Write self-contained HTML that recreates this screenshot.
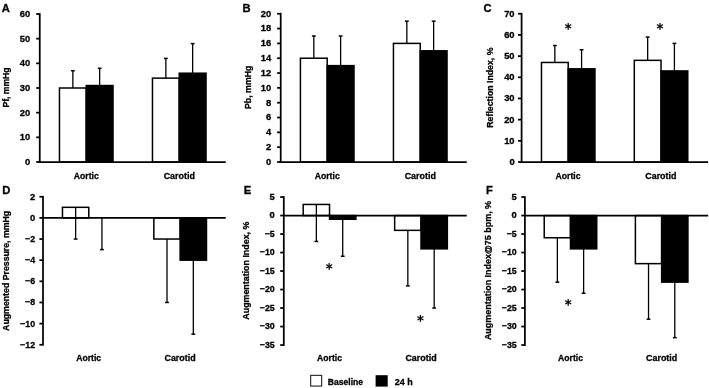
<!DOCTYPE html>
<html><head><meta charset="utf-8"><title>Figure</title>
<style>
html,body{margin:0;padding:0;background:#fff;}
body{width:709px;height:388px;overflow:hidden;}
svg{display:block;}
svg text{font-family:"Liberation Sans",sans-serif;font-weight:bold;fill:#000;stroke:#000;stroke-width:0.3px;}
</style></head><body>
<svg width="709" height="388" viewBox="0 0 709 388">
<rect width="709" height="388" fill="#fff"/>
<rect x="59.47" y="88.00" width="26.78" height="74.00" fill="#fff" stroke="#000" stroke-width="1.5"/>
<line x1="72.86" y1="88.00" x2="72.86" y2="70.73" stroke="#000" stroke-width="1.3" stroke-linecap="butt"/>
<line x1="70.96" y1="70.73" x2="74.76" y2="70.73" stroke="#000" stroke-width="1.5" stroke-linecap="butt"/>
<rect x="86.25" y="85.53" width="26.78" height="76.47" fill="#000" stroke="#000" stroke-width="1.5"/>
<line x1="99.64" y1="85.53" x2="99.64" y2="68.27" stroke="#000" stroke-width="1.3" stroke-linecap="butt"/>
<line x1="97.74" y1="68.27" x2="101.54" y2="68.27" stroke="#000" stroke-width="1.5" stroke-linecap="butt"/>
<text x="86.25" y="178.60" text-anchor="middle" font-size="9.4" textLength="25.0" lengthAdjust="spacingAndGlyphs">Aortic</text>
<rect x="152.47" y="78.13" width="26.78" height="83.87" fill="#fff" stroke="#000" stroke-width="1.5"/>
<line x1="165.86" y1="78.13" x2="165.86" y2="58.40" stroke="#000" stroke-width="1.3" stroke-linecap="butt"/>
<line x1="163.96" y1="58.40" x2="167.76" y2="58.40" stroke="#000" stroke-width="1.5" stroke-linecap="butt"/>
<rect x="179.25" y="73.20" width="26.78" height="88.80" fill="#000" stroke="#000" stroke-width="1.5"/>
<line x1="192.64" y1="73.20" x2="192.64" y2="43.60" stroke="#000" stroke-width="1.3" stroke-linecap="butt"/>
<line x1="190.74" y1="43.60" x2="194.54" y2="43.60" stroke="#000" stroke-width="1.5" stroke-linecap="butt"/>
<text x="179.25" y="178.60" text-anchor="middle" font-size="9.4" textLength="31.2" lengthAdjust="spacingAndGlyphs">Carotid</text>
<line x1="39.75" y1="13.12" x2="39.75" y2="162.88" stroke="#000" stroke-width="1.75" stroke-linecap="butt"/>
<line x1="38.88" y1="162.00" x2="225.75" y2="162.00" stroke="#000" stroke-width="1.75" stroke-linecap="butt"/>
<line x1="36.15" y1="162.00" x2="39.75" y2="162.00" stroke="#000" stroke-width="1.75" stroke-linecap="butt"/>
<text x="30.20" y="164.90" text-anchor="end" font-size="9.4">0</text>
<line x1="36.15" y1="137.33" x2="39.75" y2="137.33" stroke="#000" stroke-width="1.75" stroke-linecap="butt"/>
<text x="30.20" y="140.23" text-anchor="end" font-size="9.4">10</text>
<line x1="36.15" y1="112.67" x2="39.75" y2="112.67" stroke="#000" stroke-width="1.75" stroke-linecap="butt"/>
<text x="30.20" y="115.57" text-anchor="end" font-size="9.4">20</text>
<line x1="36.15" y1="88.00" x2="39.75" y2="88.00" stroke="#000" stroke-width="1.75" stroke-linecap="butt"/>
<text x="30.20" y="90.90" text-anchor="end" font-size="9.4">30</text>
<line x1="36.15" y1="63.33" x2="39.75" y2="63.33" stroke="#000" stroke-width="1.75" stroke-linecap="butt"/>
<text x="30.20" y="66.23" text-anchor="end" font-size="9.4">40</text>
<line x1="36.15" y1="38.67" x2="39.75" y2="38.67" stroke="#000" stroke-width="1.75" stroke-linecap="butt"/>
<text x="30.20" y="41.57" text-anchor="end" font-size="9.4">50</text>
<line x1="36.15" y1="14.00" x2="39.75" y2="14.00" stroke="#000" stroke-width="1.75" stroke-linecap="butt"/>
<text x="30.20" y="16.90" text-anchor="end" font-size="9.4">60</text>
<text x="9.00" y="87.50" text-anchor="middle" font-size="9.4" transform="rotate(-90 9.00 87.50)" textLength="40.2" lengthAdjust="spacingAndGlyphs">Pf, mmHg</text>
<text x="1.70" y="11.55" text-anchor="start" font-size="11.2">A</text>
<rect x="300.42" y="58.22" width="26.79" height="103.78" fill="#fff" stroke="#000" stroke-width="1.5"/>
<line x1="313.82" y1="58.22" x2="313.82" y2="35.99" stroke="#000" stroke-width="1.3" stroke-linecap="butt"/>
<line x1="311.92" y1="35.99" x2="315.72" y2="35.99" stroke="#000" stroke-width="1.5" stroke-linecap="butt"/>
<rect x="327.21" y="65.64" width="26.79" height="96.36" fill="#000" stroke="#000" stroke-width="1.5"/>
<line x1="340.61" y1="65.64" x2="340.61" y2="35.99" stroke="#000" stroke-width="1.3" stroke-linecap="butt"/>
<line x1="338.71" y1="35.99" x2="342.51" y2="35.99" stroke="#000" stroke-width="1.5" stroke-linecap="butt"/>
<text x="327.21" y="178.60" text-anchor="middle" font-size="9.4" textLength="25.0" lengthAdjust="spacingAndGlyphs">Aortic</text>
<rect x="393.45" y="43.40" width="26.79" height="118.60" fill="#fff" stroke="#000" stroke-width="1.5"/>
<line x1="406.84" y1="43.40" x2="406.84" y2="21.16" stroke="#000" stroke-width="1.3" stroke-linecap="butt"/>
<line x1="404.94" y1="21.16" x2="408.74" y2="21.16" stroke="#000" stroke-width="1.5" stroke-linecap="butt"/>
<rect x="420.24" y="50.81" width="26.79" height="111.19" fill="#000" stroke="#000" stroke-width="1.5"/>
<line x1="433.63" y1="50.81" x2="433.63" y2="21.16" stroke="#000" stroke-width="1.3" stroke-linecap="butt"/>
<line x1="431.73" y1="21.16" x2="435.53" y2="21.16" stroke="#000" stroke-width="1.5" stroke-linecap="butt"/>
<text x="420.24" y="178.60" text-anchor="middle" font-size="9.4" textLength="31.2" lengthAdjust="spacingAndGlyphs">Carotid</text>
<line x1="280.70" y1="12.88" x2="280.70" y2="162.88" stroke="#000" stroke-width="1.75" stroke-linecap="butt"/>
<line x1="279.82" y1="162.00" x2="466.75" y2="162.00" stroke="#000" stroke-width="1.75" stroke-linecap="butt"/>
<line x1="277.10" y1="162.00" x2="280.70" y2="162.00" stroke="#000" stroke-width="1.75" stroke-linecap="butt"/>
<text x="271.30" y="164.90" text-anchor="end" font-size="9.4">0</text>
<line x1="277.10" y1="147.17" x2="280.70" y2="147.17" stroke="#000" stroke-width="1.75" stroke-linecap="butt"/>
<text x="271.30" y="150.07" text-anchor="end" font-size="9.4">2</text>
<line x1="277.10" y1="132.35" x2="280.70" y2="132.35" stroke="#000" stroke-width="1.75" stroke-linecap="butt"/>
<text x="271.30" y="135.25" text-anchor="end" font-size="9.4">4</text>
<line x1="277.10" y1="117.52" x2="280.70" y2="117.52" stroke="#000" stroke-width="1.75" stroke-linecap="butt"/>
<text x="271.30" y="120.42" text-anchor="end" font-size="9.4">6</text>
<line x1="277.10" y1="102.70" x2="280.70" y2="102.70" stroke="#000" stroke-width="1.75" stroke-linecap="butt"/>
<text x="271.30" y="105.60" text-anchor="end" font-size="9.4">8</text>
<line x1="277.10" y1="87.88" x2="280.70" y2="87.88" stroke="#000" stroke-width="1.75" stroke-linecap="butt"/>
<text x="271.30" y="90.78" text-anchor="end" font-size="9.4">10</text>
<line x1="277.10" y1="73.05" x2="280.70" y2="73.05" stroke="#000" stroke-width="1.75" stroke-linecap="butt"/>
<text x="271.30" y="75.95" text-anchor="end" font-size="9.4">12</text>
<line x1="277.10" y1="58.22" x2="280.70" y2="58.22" stroke="#000" stroke-width="1.75" stroke-linecap="butt"/>
<text x="271.30" y="61.12" text-anchor="end" font-size="9.4">14</text>
<line x1="277.10" y1="43.40" x2="280.70" y2="43.40" stroke="#000" stroke-width="1.75" stroke-linecap="butt"/>
<text x="271.30" y="46.30" text-anchor="end" font-size="9.4">16</text>
<line x1="277.10" y1="28.57" x2="280.70" y2="28.57" stroke="#000" stroke-width="1.75" stroke-linecap="butt"/>
<text x="271.30" y="31.47" text-anchor="end" font-size="9.4">18</text>
<line x1="277.10" y1="13.75" x2="280.70" y2="13.75" stroke="#000" stroke-width="1.75" stroke-linecap="butt"/>
<text x="271.30" y="16.65" text-anchor="end" font-size="9.4">20</text>
<text x="250.70" y="87.30" text-anchor="middle" font-size="9.4" transform="rotate(-90 250.70 87.30)" textLength="43.6" lengthAdjust="spacingAndGlyphs">Pb, mmHg</text>
<text x="242.60" y="11.55" text-anchor="start" font-size="11.2">B</text>
<rect x="541.48" y="62.46" width="26.73" height="99.54" fill="#fff" stroke="#000" stroke-width="1.5"/>
<line x1="554.85" y1="62.46" x2="554.85" y2="45.52" stroke="#000" stroke-width="1.3" stroke-linecap="butt"/>
<line x1="552.95" y1="45.52" x2="556.75" y2="45.52" stroke="#000" stroke-width="1.5" stroke-linecap="butt"/>
<rect x="568.21" y="68.81" width="26.73" height="93.19" fill="#000" stroke="#000" stroke-width="1.5"/>
<line x1="581.58" y1="68.81" x2="581.58" y2="49.75" stroke="#000" stroke-width="1.3" stroke-linecap="butt"/>
<line x1="579.68" y1="49.75" x2="583.48" y2="49.75" stroke="#000" stroke-width="1.5" stroke-linecap="butt"/>
<text x="568.01" y="178.60" text-anchor="middle" font-size="9.4" textLength="25.0" lengthAdjust="spacingAndGlyphs">Aortic</text>
<rect x="634.30" y="60.34" width="26.73" height="101.66" fill="#fff" stroke="#000" stroke-width="1.5"/>
<line x1="647.67" y1="60.34" x2="647.67" y2="37.05" stroke="#000" stroke-width="1.3" stroke-linecap="butt"/>
<line x1="645.77" y1="37.05" x2="649.57" y2="37.05" stroke="#000" stroke-width="1.5" stroke-linecap="butt"/>
<rect x="661.04" y="70.93" width="26.73" height="91.07" fill="#000" stroke="#000" stroke-width="1.5"/>
<line x1="674.40" y1="70.93" x2="674.40" y2="43.40" stroke="#000" stroke-width="1.3" stroke-linecap="butt"/>
<line x1="672.50" y1="43.40" x2="676.30" y2="43.40" stroke="#000" stroke-width="1.5" stroke-linecap="butt"/>
<text x="660.84" y="178.60" text-anchor="middle" font-size="9.4" textLength="31.2" lengthAdjust="spacingAndGlyphs">Carotid</text>
<line x1="521.60" y1="12.88" x2="521.60" y2="162.88" stroke="#000" stroke-width="1.75" stroke-linecap="butt"/>
<line x1="520.73" y1="162.00" x2="708.15" y2="162.00" stroke="#000" stroke-width="1.75" stroke-linecap="butt"/>
<line x1="518.00" y1="162.00" x2="521.60" y2="162.00" stroke="#000" stroke-width="1.75" stroke-linecap="butt"/>
<text x="514.60" y="164.90" text-anchor="end" font-size="9.4">0</text>
<line x1="518.00" y1="140.82" x2="521.60" y2="140.82" stroke="#000" stroke-width="1.75" stroke-linecap="butt"/>
<text x="514.60" y="143.72" text-anchor="end" font-size="9.4">10</text>
<line x1="518.00" y1="119.64" x2="521.60" y2="119.64" stroke="#000" stroke-width="1.75" stroke-linecap="butt"/>
<text x="514.60" y="122.54" text-anchor="end" font-size="9.4">20</text>
<line x1="518.00" y1="98.46" x2="521.60" y2="98.46" stroke="#000" stroke-width="1.75" stroke-linecap="butt"/>
<text x="514.60" y="101.36" text-anchor="end" font-size="9.4">30</text>
<line x1="518.00" y1="77.29" x2="521.60" y2="77.29" stroke="#000" stroke-width="1.75" stroke-linecap="butt"/>
<text x="514.60" y="80.19" text-anchor="end" font-size="9.4">40</text>
<line x1="518.00" y1="56.11" x2="521.60" y2="56.11" stroke="#000" stroke-width="1.75" stroke-linecap="butt"/>
<text x="514.60" y="59.01" text-anchor="end" font-size="9.4">50</text>
<line x1="518.00" y1="34.93" x2="521.60" y2="34.93" stroke="#000" stroke-width="1.75" stroke-linecap="butt"/>
<text x="514.60" y="37.83" text-anchor="end" font-size="9.4">60</text>
<line x1="518.00" y1="13.75" x2="521.60" y2="13.75" stroke="#000" stroke-width="1.75" stroke-linecap="butt"/>
<text x="514.60" y="16.65" text-anchor="end" font-size="9.4">70</text>
<text x="493.40" y="87.60" text-anchor="middle" font-size="9.4" transform="rotate(-90 493.40 87.60)" textLength="80.2" lengthAdjust="spacingAndGlyphs">Reflection Index, %</text>
<text x="483.50" y="11.55" text-anchor="start" font-size="11.2">C</text>
<text x="568.26" y="33.19" text-anchor="middle" font-size="13.2" style="font-family:'DejaVu Sans',sans-serif;stroke-width:0.15px">*</text>
<text x="659.86" y="33.19" text-anchor="middle" font-size="13.2" style="font-family:'DejaVu Sans',sans-serif;stroke-width:0.15px">*</text>
<rect x="62.47" y="207.32" width="26.32" height="10.57" fill="#fff" stroke="#000" stroke-width="1.5"/>
<line x1="75.63" y1="207.32" x2="75.63" y2="239.04" stroke="#000" stroke-width="1.3" stroke-linecap="butt"/>
<line x1="73.73" y1="239.04" x2="77.53" y2="239.04" stroke="#000" stroke-width="1.5" stroke-linecap="butt"/>
<line x1="101.95" y1="217.89" x2="101.95" y2="249.61" stroke="#000" stroke-width="1.3" stroke-linecap="butt"/>
<line x1="100.05" y1="249.61" x2="103.85" y2="249.61" stroke="#000" stroke-width="1.5" stroke-linecap="butt"/>
<text x="88.69" y="361.40" text-anchor="middle" font-size="9.4" textLength="25.0" lengthAdjust="spacingAndGlyphs">Aortic</text>
<rect x="153.85" y="217.89" width="26.32" height="21.14" fill="#fff" stroke="#000" stroke-width="1.5"/>
<line x1="167.00" y1="239.04" x2="167.00" y2="302.46" stroke="#000" stroke-width="1.3" stroke-linecap="butt"/>
<line x1="165.10" y1="302.46" x2="168.90" y2="302.46" stroke="#000" stroke-width="1.5" stroke-linecap="butt"/>
<rect x="180.16" y="217.89" width="26.32" height="42.29" fill="#000" stroke="#000" stroke-width="1.5"/>
<line x1="193.32" y1="260.18" x2="193.32" y2="334.18" stroke="#000" stroke-width="1.3" stroke-linecap="butt"/>
<line x1="191.42" y1="334.18" x2="195.22" y2="334.18" stroke="#000" stroke-width="1.5" stroke-linecap="butt"/>
<text x="180.06" y="361.40" text-anchor="middle" font-size="9.4" textLength="31.2" lengthAdjust="spacingAndGlyphs">Carotid</text>
<line x1="43.00" y1="195.88" x2="43.00" y2="345.62" stroke="#000" stroke-width="1.75" stroke-linecap="butt"/>
<line x1="42.12" y1="217.89" x2="225.75" y2="217.89" stroke="#000" stroke-width="1.75" stroke-linecap="butt"/>
<line x1="39.40" y1="344.75" x2="43.00" y2="344.75" stroke="#000" stroke-width="1.75" stroke-linecap="butt"/>
<text x="35.10" y="347.65" text-anchor="end" font-size="9.4" textLength="14.99" lengthAdjust="spacingAndGlyphs">−12</text>
<line x1="39.40" y1="323.61" x2="43.00" y2="323.61" stroke="#000" stroke-width="1.75" stroke-linecap="butt"/>
<text x="35.10" y="326.51" text-anchor="end" font-size="9.4" textLength="14.99" lengthAdjust="spacingAndGlyphs">−10</text>
<line x1="39.40" y1="302.46" x2="43.00" y2="302.46" stroke="#000" stroke-width="1.75" stroke-linecap="butt"/>
<text x="35.10" y="305.36" text-anchor="end" font-size="9.4" textLength="10.07" lengthAdjust="spacingAndGlyphs">−8</text>
<line x1="39.40" y1="281.32" x2="43.00" y2="281.32" stroke="#000" stroke-width="1.75" stroke-linecap="butt"/>
<text x="35.10" y="284.22" text-anchor="end" font-size="9.4" textLength="10.07" lengthAdjust="spacingAndGlyphs">−6</text>
<line x1="39.40" y1="260.18" x2="43.00" y2="260.18" stroke="#000" stroke-width="1.75" stroke-linecap="butt"/>
<text x="35.10" y="263.08" text-anchor="end" font-size="9.4" textLength="10.07" lengthAdjust="spacingAndGlyphs">−4</text>
<line x1="39.40" y1="239.04" x2="43.00" y2="239.04" stroke="#000" stroke-width="1.75" stroke-linecap="butt"/>
<text x="35.10" y="241.94" text-anchor="end" font-size="9.4" textLength="10.07" lengthAdjust="spacingAndGlyphs">−2</text>
<line x1="39.40" y1="217.89" x2="43.00" y2="217.89" stroke="#000" stroke-width="1.75" stroke-linecap="butt"/>
<text x="35.10" y="220.79" text-anchor="end" font-size="9.4">0</text>
<line x1="39.40" y1="196.75" x2="43.00" y2="196.75" stroke="#000" stroke-width="1.75" stroke-linecap="butt"/>
<text x="35.10" y="199.65" text-anchor="end" font-size="9.4">2</text>
<text x="9.30" y="270.85" text-anchor="middle" font-size="9.4" transform="rotate(-90 9.30 270.85)" textLength="120.1" lengthAdjust="spacingAndGlyphs">Augmented Pressure, mmHg</text>
<text x="2.30" y="194.15" text-anchor="start" font-size="11.2">D</text>
<rect x="303.19" y="204.45" width="26.34" height="11.10" fill="#fff" stroke="#000" stroke-width="1.5"/>
<line x1="316.37" y1="204.45" x2="316.37" y2="241.45" stroke="#000" stroke-width="1.3" stroke-linecap="butt"/>
<line x1="314.47" y1="241.45" x2="318.27" y2="241.45" stroke="#000" stroke-width="1.5" stroke-linecap="butt"/>
<rect x="329.54" y="215.55" width="26.34" height="3.70" fill="#000" stroke="#000" stroke-width="1.5"/>
<line x1="342.71" y1="219.25" x2="342.71" y2="256.25" stroke="#000" stroke-width="1.3" stroke-linecap="butt"/>
<line x1="340.81" y1="256.25" x2="344.61" y2="256.25" stroke="#000" stroke-width="1.5" stroke-linecap="butt"/>
<text x="329.54" y="361.40" text-anchor="middle" font-size="9.4" textLength="25.0" lengthAdjust="spacingAndGlyphs">Aortic</text>
<rect x="394.67" y="215.55" width="26.34" height="14.80" fill="#fff" stroke="#000" stroke-width="1.5"/>
<line x1="407.84" y1="230.35" x2="407.84" y2="285.85" stroke="#000" stroke-width="1.3" stroke-linecap="butt"/>
<line x1="405.94" y1="285.85" x2="409.74" y2="285.85" stroke="#000" stroke-width="1.5" stroke-linecap="butt"/>
<rect x="421.01" y="215.55" width="26.34" height="33.30" fill="#000" stroke="#000" stroke-width="1.5"/>
<line x1="434.18" y1="248.85" x2="434.18" y2="308.05" stroke="#000" stroke-width="1.3" stroke-linecap="butt"/>
<line x1="432.28" y1="308.05" x2="436.08" y2="308.05" stroke="#000" stroke-width="1.5" stroke-linecap="butt"/>
<text x="421.01" y="361.40" text-anchor="middle" font-size="9.4" textLength="31.2" lengthAdjust="spacingAndGlyphs">Carotid</text>
<line x1="283.80" y1="196.18" x2="283.80" y2="345.93" stroke="#000" stroke-width="1.75" stroke-linecap="butt"/>
<line x1="282.93" y1="215.55" x2="466.75" y2="215.55" stroke="#000" stroke-width="1.75" stroke-linecap="butt"/>
<line x1="280.20" y1="345.05" x2="283.80" y2="345.05" stroke="#000" stroke-width="1.75" stroke-linecap="butt"/>
<text x="274.80" y="347.95" text-anchor="end" font-size="9.4" textLength="14.99" lengthAdjust="spacingAndGlyphs">−35</text>
<line x1="280.20" y1="326.55" x2="283.80" y2="326.55" stroke="#000" stroke-width="1.75" stroke-linecap="butt"/>
<text x="274.80" y="329.45" text-anchor="end" font-size="9.4" textLength="14.99" lengthAdjust="spacingAndGlyphs">−30</text>
<line x1="280.20" y1="308.05" x2="283.80" y2="308.05" stroke="#000" stroke-width="1.75" stroke-linecap="butt"/>
<text x="274.80" y="310.95" text-anchor="end" font-size="9.4" textLength="14.99" lengthAdjust="spacingAndGlyphs">−25</text>
<line x1="280.20" y1="289.55" x2="283.80" y2="289.55" stroke="#000" stroke-width="1.75" stroke-linecap="butt"/>
<text x="274.80" y="292.45" text-anchor="end" font-size="9.4" textLength="14.99" lengthAdjust="spacingAndGlyphs">−20</text>
<line x1="280.20" y1="271.05" x2="283.80" y2="271.05" stroke="#000" stroke-width="1.75" stroke-linecap="butt"/>
<text x="274.80" y="273.95" text-anchor="end" font-size="9.4" textLength="14.99" lengthAdjust="spacingAndGlyphs">−15</text>
<line x1="280.20" y1="252.55" x2="283.80" y2="252.55" stroke="#000" stroke-width="1.75" stroke-linecap="butt"/>
<text x="274.80" y="255.45" text-anchor="end" font-size="9.4" textLength="14.99" lengthAdjust="spacingAndGlyphs">−10</text>
<line x1="280.20" y1="234.05" x2="283.80" y2="234.05" stroke="#000" stroke-width="1.75" stroke-linecap="butt"/>
<text x="274.80" y="236.95" text-anchor="end" font-size="9.4" textLength="10.07" lengthAdjust="spacingAndGlyphs">−5</text>
<line x1="280.20" y1="215.55" x2="283.80" y2="215.55" stroke="#000" stroke-width="1.75" stroke-linecap="butt"/>
<text x="274.80" y="218.45" text-anchor="end" font-size="9.4">0</text>
<line x1="280.20" y1="197.05" x2="283.80" y2="197.05" stroke="#000" stroke-width="1.75" stroke-linecap="butt"/>
<text x="274.80" y="199.95" text-anchor="end" font-size="9.4">5</text>
<text x="248.80" y="270.65" text-anchor="middle" font-size="9.4" transform="rotate(-90 248.80 270.65)" textLength="98.1" lengthAdjust="spacingAndGlyphs">Augmentation Index, %</text>
<text x="243.80" y="194.15" text-anchor="start" font-size="11.2">E</text>
<text x="329.16" y="273.29" text-anchor="middle" font-size="13.2" style="font-family:'DejaVu Sans',sans-serif;stroke-width:0.15px">*</text>
<text x="420.46" y="324.94" text-anchor="middle" font-size="13.2" style="font-family:'DejaVu Sans',sans-serif;stroke-width:0.15px">*</text>
<rect x="544.23" y="215.55" width="26.26" height="22.20" fill="#fff" stroke="#000" stroke-width="1.5"/>
<line x1="557.36" y1="237.75" x2="557.36" y2="282.15" stroke="#000" stroke-width="1.3" stroke-linecap="butt"/>
<line x1="555.46" y1="282.15" x2="559.26" y2="282.15" stroke="#000" stroke-width="1.5" stroke-linecap="butt"/>
<rect x="570.49" y="215.55" width="26.26" height="33.30" fill="#000" stroke="#000" stroke-width="1.5"/>
<line x1="583.62" y1="248.85" x2="583.62" y2="293.25" stroke="#000" stroke-width="1.3" stroke-linecap="butt"/>
<line x1="581.72" y1="293.25" x2="585.52" y2="293.25" stroke="#000" stroke-width="1.5" stroke-linecap="butt"/>
<text x="570.49" y="361.40" text-anchor="middle" font-size="9.4" textLength="25.0" lengthAdjust="spacingAndGlyphs">Aortic</text>
<rect x="635.40" y="215.55" width="26.26" height="48.10" fill="#fff" stroke="#000" stroke-width="1.5"/>
<line x1="648.53" y1="263.65" x2="648.53" y2="319.15" stroke="#000" stroke-width="1.3" stroke-linecap="butt"/>
<line x1="646.63" y1="319.15" x2="650.43" y2="319.15" stroke="#000" stroke-width="1.5" stroke-linecap="butt"/>
<rect x="661.66" y="215.55" width="26.26" height="66.60" fill="#000" stroke="#000" stroke-width="1.5"/>
<line x1="674.79" y1="282.15" x2="674.79" y2="337.65" stroke="#000" stroke-width="1.3" stroke-linecap="butt"/>
<line x1="672.89" y1="337.65" x2="676.69" y2="337.65" stroke="#000" stroke-width="1.5" stroke-linecap="butt"/>
<text x="661.66" y="361.40" text-anchor="middle" font-size="9.4" textLength="31.2" lengthAdjust="spacingAndGlyphs">Carotid</text>
<line x1="524.90" y1="196.18" x2="524.90" y2="345.93" stroke="#000" stroke-width="1.75" stroke-linecap="butt"/>
<line x1="524.02" y1="215.55" x2="708.15" y2="215.55" stroke="#000" stroke-width="1.75" stroke-linecap="butt"/>
<line x1="521.30" y1="345.05" x2="524.90" y2="345.05" stroke="#000" stroke-width="1.75" stroke-linecap="butt"/>
<text x="516.80" y="347.95" text-anchor="end" font-size="9.4" textLength="14.99" lengthAdjust="spacingAndGlyphs">−35</text>
<line x1="521.30" y1="326.55" x2="524.90" y2="326.55" stroke="#000" stroke-width="1.75" stroke-linecap="butt"/>
<text x="516.80" y="329.45" text-anchor="end" font-size="9.4" textLength="14.99" lengthAdjust="spacingAndGlyphs">−30</text>
<line x1="521.30" y1="308.05" x2="524.90" y2="308.05" stroke="#000" stroke-width="1.75" stroke-linecap="butt"/>
<text x="516.80" y="310.95" text-anchor="end" font-size="9.4" textLength="14.99" lengthAdjust="spacingAndGlyphs">−25</text>
<line x1="521.30" y1="289.55" x2="524.90" y2="289.55" stroke="#000" stroke-width="1.75" stroke-linecap="butt"/>
<text x="516.80" y="292.45" text-anchor="end" font-size="9.4" textLength="14.99" lengthAdjust="spacingAndGlyphs">−20</text>
<line x1="521.30" y1="271.05" x2="524.90" y2="271.05" stroke="#000" stroke-width="1.75" stroke-linecap="butt"/>
<text x="516.80" y="273.95" text-anchor="end" font-size="9.4" textLength="14.99" lengthAdjust="spacingAndGlyphs">−15</text>
<line x1="521.30" y1="252.55" x2="524.90" y2="252.55" stroke="#000" stroke-width="1.75" stroke-linecap="butt"/>
<text x="516.80" y="255.45" text-anchor="end" font-size="9.4" textLength="14.99" lengthAdjust="spacingAndGlyphs">−10</text>
<line x1="521.30" y1="234.05" x2="524.90" y2="234.05" stroke="#000" stroke-width="1.75" stroke-linecap="butt"/>
<text x="516.80" y="236.95" text-anchor="end" font-size="9.4" textLength="10.07" lengthAdjust="spacingAndGlyphs">−5</text>
<line x1="521.30" y1="215.55" x2="524.90" y2="215.55" stroke="#000" stroke-width="1.75" stroke-linecap="butt"/>
<text x="516.80" y="218.45" text-anchor="end" font-size="9.4">0</text>
<line x1="521.30" y1="197.05" x2="524.90" y2="197.05" stroke="#000" stroke-width="1.75" stroke-linecap="butt"/>
<text x="516.80" y="199.95" text-anchor="end" font-size="9.4">5</text>
<text x="491.20" y="270.50" text-anchor="middle" font-size="9.4" transform="rotate(-90 491.20 270.50)" textLength="139.2" lengthAdjust="spacingAndGlyphs">Augmentation Index@75 bpm, %</text>
<text x="486.00" y="194.15" text-anchor="start" font-size="11.2">F</text>
<text x="568.16" y="308.99" text-anchor="middle" font-size="13.2" style="font-family:'DejaVu Sans',sans-serif;stroke-width:0.15px">*</text>
<rect x="310.65" y="375.35" width="11.0" height="10.7" fill="#fff" stroke="#222" stroke-width="1.1"/>
<text x="327.70" y="384.80" text-anchor="start" font-size="9.4" textLength="35.4" lengthAdjust="spacingAndGlyphs">Baseline</text>
<rect x="375.6" y="375.2" width="12.1" height="11.4" fill="#000"/>
<text x="394.80" y="384.80" text-anchor="start" font-size="9.4" textLength="18.0" lengthAdjust="spacingAndGlyphs">24 h</text>
</svg>
</body></html>
